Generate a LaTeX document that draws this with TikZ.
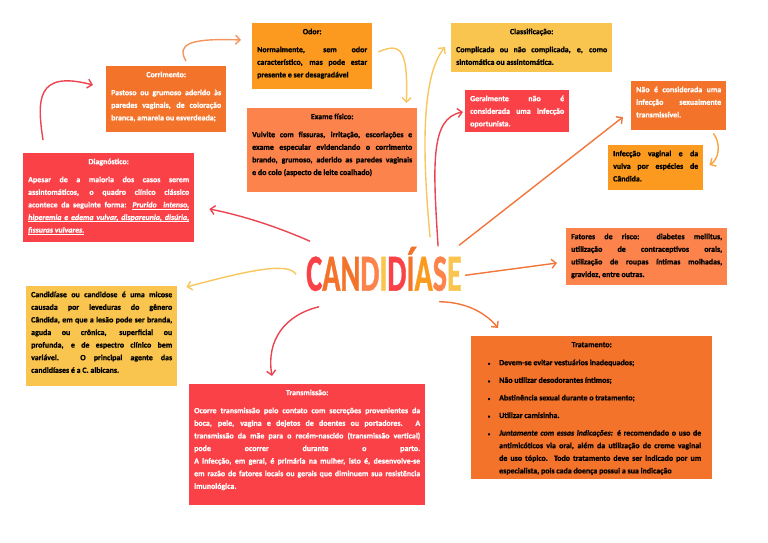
\documentclass[tikz,border=0pt]{standalone}
\usepackage{fontspec}
\usepackage{graphicx}
\setmainfont[BoldFeatures={FakeBold=1},BoldItalicFeatures={FakeBold=1}]{Carlito}
\usetikzlibrary{arrows.meta}
\definecolor{redbox}{HTML}{FB4148}
\definecolor{orangebox}{HTML}{F4732B}
\definecolor{amberbox}{HTML}{FB9A1E}
\definecolor{salmonbox}{HTML}{FC834C}
\definecolor{yellowbox}{HTML}{F9C54F}
\definecolor{redline}{HTML}{EA4451}
\definecolor{orangeline}{HTML}{F0763A}
\definecolor{yellowline}{HTML}{F7C65C}
\definecolor{amberline}{HTML}{F6A540}
\definecolor{salmonline}{HTML}{F4955F}
\tikzset{
  panel/.style n args={2}{anchor=north west, inner xsep=5pt, inner ysep=0pt, text width=#1pt-10pt,
    text height=11pt, text depth=#2pt-11pt, align=justify,
    font=\fontsize{7.9}{12.6}\selectfont\bfseries},
  link/.style={line width=1.4pt, -{Straight Barb[length=4.5pt,width=9pt,line width=1.4pt]}},
  bigword/.style={inner sep=0pt, font=\fontsize{52}{52}\selectfont\bfseries},
}
\newcommand{\paneltitle}[1]{\centerline{#1}\vskip 5.4pt}
\newcommand{\caritem}[1]{\par\vskip 5pt\noindent\llap{\scalebox{.6}{\textbullet}\hskip 9pt}#1\par}
\newcommand{\ulw}[1]{\setbox0\hbox{\textit{#1}}\rlap{\rule[-1.6pt]{\wd0}{.5pt}}\box0}
\newcommand{\ulg}{\leaders\hrule height -1.1pt depth 1.6pt\hskip .22em plus .3em minus .05em\relax}
\begin{document}
\begin{tikzpicture}[x=1pt,y=-1pt]
\useasboundingbox (0,0) rectangle (768,543);
\node[panel={120}{66}, fill=orangebox, text=white] (corrimento) at (106,66){\paneltitle{Corrimento:}Pastoso ou grumoso aderido às\linebreak paredes vaginais, de coloração\linebreak branca, amarela ou esverdeada;};
\node[panel={171}{89}, fill=redbox, text=white] (diagnostico) at (23,153){\paneltitle{Diagnóstico:}Apesar de a maioria dos casos serem\linebreak assintomáticos, o quadro clínico clássico\linebreak acontece da seguinte forma: \ulw{Prurido}\ulg\ulw{intenso,}\linebreak \ulw{hiperemia}\ulg\ulw{e}\ulg\ulw{edema}\ulg\ulw{vulvar,}\ulg\ulw{dispareunia,}\ulg\ulw{disúria,}\linebreak \ulw{fissuras}\ulg\ulw{vulvares.}};
\node[panel={120}{66}, fill=amberbox] (odor) at (252,23){\paneltitle{Odor:}Normalmente, sem odor\linebreak característico, mas pode estar\linebreak presente e ser desagradável};
\node[panel={170}{84}, fill=salmonbox] (exame) at (247,108){\paneltitle{Exame físico:}Vulvite com fissuras, irritação, escoriações e\linebreak exame especular evidenciando o corrimento\linebreak brando, grumoso, aderido as paredes vaginais\linebreak e do colo (aspecto de leite coalhado)};
\node[panel={161}{49}, fill=yellowbox] (classificacao) at (451,23){\paneltitle{Classificação:}Complicada ou não complicada, e, como\linebreak sintomática ou assintomática.};
\node[panel={104}{42}, fill=redbox, text=white] (geralmente) at (465,90){Geralmente não é\linebreak considerada uma infecção\linebreak oportunista.};
\node[panel={95}{49}, fill=orangebox, text=white] (naoist) at (631,81){Não é considerada uma\linebreak infecção sexualmente\linebreak transmissível.};
\node[panel={95}{45}, fill=amberbox] (infeccao) at (608,145){Infecção vaginal e da\linebreak vulva por espécies de\linebreak Cândida.};
\node[panel={161}{57}, fill=salmonbox] (fatores) at (566,228){Fatores de risco: diabetes mellitus,\linebreak utilização de contraceptivos orais,\linebreak utilização de roupas íntimas molhadas,\linebreak gravidez, entre outras.};
\node[panel={151}{100}, fill=yellowbox] (micose) at (26,286){Candidíase ou candidose é uma micose\linebreak causada por leveduras do gênero\linebreak Cândida, em que a lesão pode ser branda,\linebreak aguda ou crônica, superficial ou\linebreak profunda, e de espectro clínico bem\linebreak variável. O principal agente das\linebreak candidíases é a C. albicans.};
\node[panel={236}{121}, fill=redbox, text=white] (transmissao) at (189,384){\paneltitle{Transmissão:}Ocorre transmissão pelo contato com secreções provenientes da\linebreak boca, pele, vagina e dejetos de doentes ou portadores. A\linebreak transmissão da mãe para o recém-nascido (transmissão vertical)\linebreak pode ocorrer durante o parto.\linebreak A infecção, em geral, é primária na mulher, isto é, desenvolve-se\linebreak em razão de fatores locais ou gerais que diminuem sua resistência\linebreak imunológica.};
\node[panel={241}{143}, fill=orangebox] (tratamento) at (471,336){\paneltitle{Tratamento:}\leftskip=23pt \rightskip=6pt \vskip -5pt
\caritem{Devem-se evitar vestuários inadequados;}
\caritem{Não utilizar desodorantes íntimos;}
\caritem{Abstinência sexual durante o tratamento;}
\caritem{Utilizar camisinha.}
\caritem{\textit{Juntamente com essas indicações:} é recomendado o uso de\linebreak antimicóticos via oral, além da utilização de creme vaginal\linebreak de uso tópico. Todo tratamento deve ser indicado por um\linebreak especialista, pois cada doença possui a sua indicação}};
\node[bigword] (candidiase) at (384,269){\scalebox{.58}[1]{\textcolor{redbox}{C}\textcolor{orangebox}{AN}\textcolor{salmonbox}{D}\textcolor{yellowbox}{I}\textcolor{redbox}{D}\textcolor{orangebox}{Í}\textcolor{amberbox}{A}\textcolor{salmonbox}{S}\textcolor{yellowbox}{E}}};
\draw[link, redline] ([shift={(20,-13)}]diagnostico.north west) .. controls (37,100) and (36,70) .. ([shift={(-13,19)}]corrimento.north west);
\draw[link, salmonline] ([shift={(80,-5)}]corrimento.north west) .. controls (176,44) and (190,38) .. ([shift={(-11,17)}]odor.north west);
\draw[link, yellowline] ([shift={(6,29)}]odor.north east) .. controls (402,41) and (408,52) .. ([shift={(-11,-5)}]exame.north east);
\draw[link, yellowline] ([shift={(124,-9.5)}]candidiase.north west) .. controls (420,130) and (425,72) .. ([shift={(-6,24)}]classificacao.north west);
\draw[link, redline] ([shift={(132,-.5)}]candidiase.north west) .. controls (433,165) and (430,118) .. ([shift={(-2,22)}]geralmente.north west);
\draw[link, orangeline] ([shift={(153,-1.5)}]candidiase.north west) -- ([shift={(-8,36)}]naoist.north west);
\draw[link, amberline] ([shift={(-13,3)}]naoist.south east) .. controls (722,145) and (718,160) .. ([shift={(6,20)}]infeccao.north east);
\draw[link, orangeline] ([shift={(159,28.5)}]candidiase.north west) -- ([shift={(-9,35)}]fatores.north west);
\draw[link, orangeline] ([shift={(133,10.5)}]candidiase.south west) .. controls (465,302) and (485,312) .. ([shift={(27,-8)}]tratamento.north west);
\draw[link, redline] ([shift={(13,15.5)}]candidiase.south west) .. controls (285,315) and (266,340) .. ([shift={(83,-8)}]transmissao.north west);
\draw[link, yellowline] ([shift={(-10,27.5)}]candidiase.north west) .. controls (288,262) and (250,270) .. ([shift={(9,1)}]micose.north east);
\draw[link, redline] ([shift={(4,-5.5)}]candidiase.north west) .. controls (280,228) and (245,216) .. ([shift={(15,56)}]diagnostico.north east);
\end{tikzpicture}
\end{document}
